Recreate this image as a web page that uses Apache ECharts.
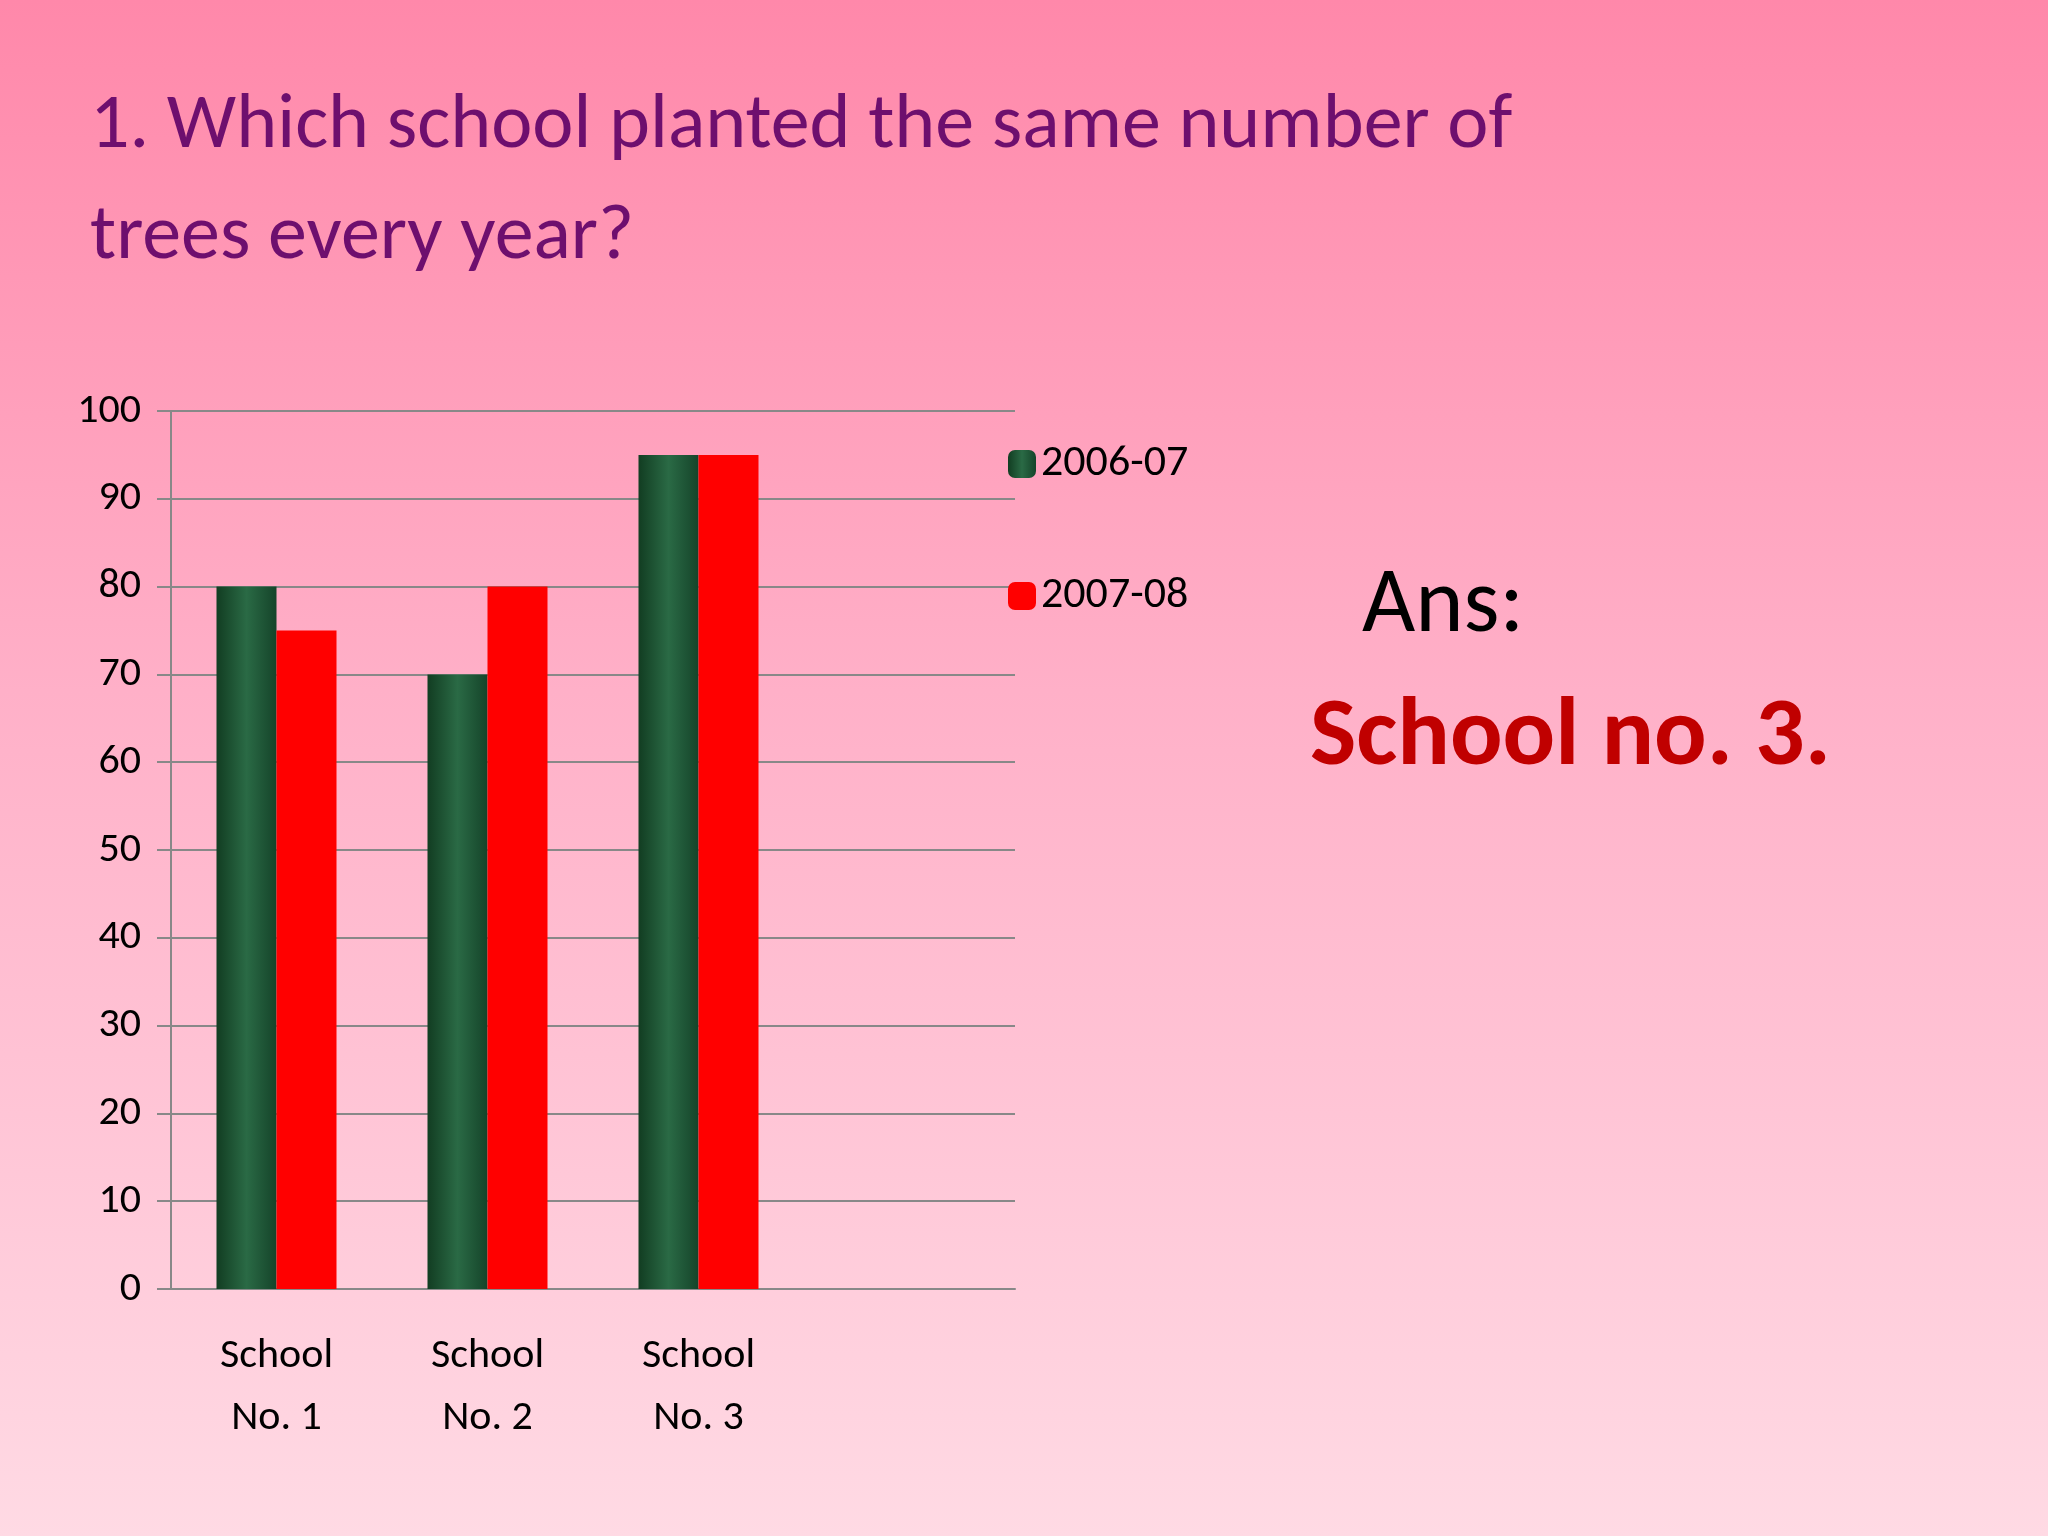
<!DOCTYPE html>
<html><head><meta charset="utf-8">
<script src="https://cdn.jsdelivr.net/npm/echarts@6/dist/echarts.min.js"></script>
<style>html,body{margin:0;padding:0}#c{width:2048px;height:1536px;background:linear-gradient(#ff88aa,#ffb0c8 45%,#ffdae4)}</style>
</head><body><div id="c"></div>
<script>
const categories = ['School\nNo. 1','School\nNo. 2','School\nNo. 3',''];
const s1Name = '2006-07', s2Name = '2007-08';
const s1 = [80,70,95,null];
const s2 = [75,80,95,null];
const chart = echarts.init(document.getElementById('c'));
const font = 'Calibri, Carlito, "Open Sans", "Noto Sans", sans-serif';
chart.setOption({
  textStyle:{fontFamily:font},
  graphic:[
    {type:'text',left:90,top:72,style:{text:'1. Which school planted the same number of\ntrees every year?',font:'78px '+font,fill:'#6e0f6e',lineHeight:111}},
    {type:'text',left:1362,top:562,style:{text:'Ans:',font:'92px '+font,fill:'#000'}},
    {type:'text',left:1310,top:690,style:{text:'School no. 3.',font:'bold 98px '+font,fill:'#c00000'}}
  ],
  legend:{orient:'vertical',left:1003,top:437,itemWidth:28,itemHeight:28,itemGap:88,
    textStyle:{fontSize:44,color:'#000',fontFamily:font},data:[s1Name,s2Name]},
  grid:{left:171,right:2048-1015,top:411,bottom:1536-1289},
  xAxis:{type:'category',data:categories,axisLine:{lineStyle:{color:'#888',width:2}},
    axisTick:{length:14,lineStyle:{color:'#888',width:2}},
    axisLabel:{fontSize:42,color:'#000',lineHeight:62,margin:36,fontFamily:font}},
  yAxis:{type:'value',min:0,max:100,interval:10,
    axisLine:{show:true,lineStyle:{color:'#888',width:2}},
    axisTick:{show:true,length:14,lineStyle:{color:'#888',width:2}},
    splitLine:{lineStyle:{color:'#888',width:2}},
    axisLabel:{fontSize:42,color:'#000',margin:30,fontFamily:font}},
  series:[
    {name:s1Name,type:'bar',data:s1,barWidth:60,barGap:'0%',
     itemStyle:{color:new echarts.graphic.LinearGradient(0,0,1,0,[{offset:0,color:'#123d22'},{offset:0.5,color:'#2a6a45'},{offset:1,color:'#15442a'}])}},
    {name:s2Name,type:'bar',data:s2,barWidth:60,itemStyle:{color:'#ff0000'}}
  ]
});
</script></body></html>
